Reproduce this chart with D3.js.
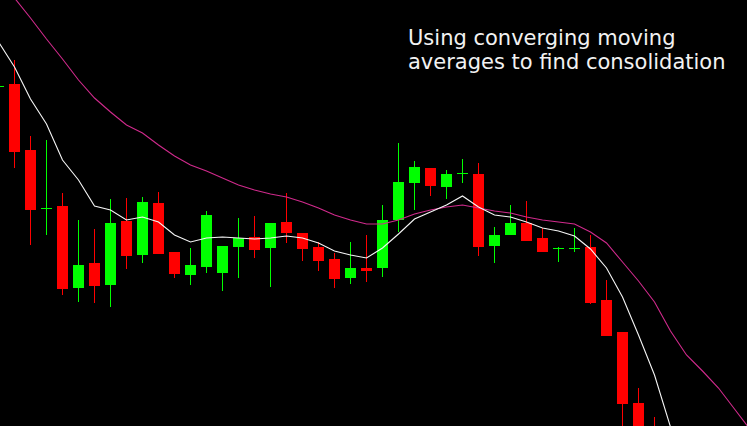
<!DOCTYPE html>
<html>
<head>
<meta charset="utf-8">
<script src="https://cdn.jsdelivr.net/npm/d3@7"></script>
<style>
  html, body { margin: 0; padding: 0; background: #000; }
  svg { display: block; }
</style>
</head>
<body>
<svg id="chart" width="747" height="426"></svg>
<script>
// ---- Data ----
const openP  = [1.1413,1.1416,1.1350,1.1291,1.1294,1.1212,1.1237,1.1215,1.1279,1.1245,1.1297,1.1248,1.1225,1.1233,1.1227,1.1253,1.1263,1.1252,1.1278,1.1267,1.1253,1.1241,1.1222,1.1232,1.1232,1.1280,1.1317,1.1332,1.1313,1.1326,1.1326,1.1254,1.1265,1.1277,1.1262,1.1251,1.1251,1.1253,1.1200,1.1168,1.1097,1.1060];
const highP  = [1.1425,1.1440,1.1364,1.1360,1.1307,1.1280,1.1271,1.1301,1.1302,1.1303,1.1308,1.1248,1.1252,1.1289,1.1254,1.1282,1.1284,1.1277,1.1307,1.1267,1.1258,1.1247,1.1258,1.1265,1.1295,1.1357,1.1339,1.1332,1.1330,1.1341,1.1337,1.1273,1.1295,1.1299,1.1272,1.1253,1.1272,1.1265,1.1220,1.1168,1.1112,1.1083];
const lowP   = [1.1405,1.1332,1.1255,1.1265,1.1205,1.1198,1.1197,1.1193,1.1231,1.1237,1.1246,1.1222,1.1215,1.1227,1.1209,1.1222,1.1242,1.1213,1.1257,1.1239,1.1229,1.1212,1.1216,1.1218,1.1223,1.1268,1.1290,1.1304,1.1301,1.1317,1.1244,1.1237,1.1265,1.1259,1.1248,1.1238,1.1248,1.1196,1.1164,1.1060,1.1030,1.1010];
const closeP = [1.1414,1.1348,1.1290,1.1292,1.1211,1.1235,1.1214,1.1277,1.1244,1.1298,1.1246,1.1226,1.1235,1.1285,1.1254,1.1262,1.1250,1.1277,1.1267,1.1251,1.1239,1.1221,1.1232,1.1229,1.1280,1.1318,1.1333,1.1314,1.1326,1.1327,1.1253,1.1265,1.1277,1.1259,1.1248,1.1252,1.1252,1.1197,1.1164,1.1096,1.1040,1.1020];

// fast moving average (white)
const fastMA = [1.1458,1.1433,1.1401,1.1376,1.1340,1.1320,1.1294,1.1290,1.1280,1.1283,1.1278,1.1265,1.1258,1.1262,1.1263,1.1262,1.1261,1.1262,1.1264,1.1262,1.1257,1.1249,1.1245,1.1242,1.1252,1.1266,1.1281,1.1288,1.1295,1.1304,1.1293,1.1285,1.1283,1.1278,1.1272,1.1269,1.1264,1.1251,1.1232,1.1203,1.1165,1.1125,1.1073];
// slow moving average (magenta)
const slowMA = [1.1522,1.1502,1.1482,1.1461,1.1441,1.1420,1.1402,1.1388,1.1375,1.1367,1.1355,1.1344,1.1335,1.1329,1.1322,1.1315,1.1310,1.1306,1.1303,1.1298,1.1292,1.1285,1.1280,1.1276,1.1276,1.1280,1.1286,1.1290,1.1293,1.1295,1.1292,1.1289,1.1287,1.1283,1.1280,1.1278,1.1276,1.1268,1.1257,1.1238,1.1219,1.1198,1.1169,1.1145,1.1129,1.1112,1.1091,1.1070];

const titleLines = ["Using converging moving", "averages to find consolidation"];

// ---- Drawing ----
const W = 747, H = 426;
const svg = d3.select("#chart");
svg.append("rect").attr("width", W).attr("height", H).attr("fill", "#000");

const x = d3.scaleLinear().domain([0, 41]).range([-1.5, 654.5]);
const y = d3.scaleLinear().domain([1.1500, 1.1074]).range([0, 426]);

const candles = openP.map((o, i) => ({ i, o, h: highP[i], l: lowP[i], c: closeP[i] }));
const up = "#00ff00", down = "#ff0000";
const bodyW = 11;

const g = svg.append("g").attr("shape-rendering", "crispEdges");

g.selectAll("line.wick").data(candles).join("line")
  .attr("class", "wick")
  .attr("x1", d => x(d.i)).attr("x2", d => x(d.i))
  .attr("y1", d => y(d.h)).attr("y2", d => y(d.l))
  .attr("stroke", d => d.c >= d.o ? up : down)
  .attr("stroke-width", 1);

g.selectAll("rect.body").data(candles).join("rect")
  .attr("class", "body")
  .attr("x", d => x(d.i) - bodyW / 2)
  .attr("width", bodyW)
  .attr("y", d => y(Math.max(d.o, d.c)))
  .attr("height", d => Math.max(1, Math.abs(y(d.o) - y(d.c))))
  .attr("fill", d => d.c >= d.o ? up : down);

const line = d3.line().x((d, i) => x(i)).y(d => y(d));

svg.append("path").datum(slowMA)
  .attr("d", line).attr("fill", "none")
  .attr("stroke", "#d02a8c").attr("stroke-width", 1.1);

svg.append("path").datum(fastMA)
  .attr("d", line).attr("fill", "none")
  .attr("stroke", "#f6f6f6").attr("stroke-width", 1.1);

svg.append("g").selectAll("text").data(titleLines).join("text")
  .attr("x", 408)
  .attr("y", (d, i) => 45 + i * 24)
  .attr("fill", "#f2f2f2")
  .attr("font-family", "DejaVu Sans, Verdana, sans-serif")
  .attr("font-size", 21)
  .text(d => d);
</script>
</body>
</html>
